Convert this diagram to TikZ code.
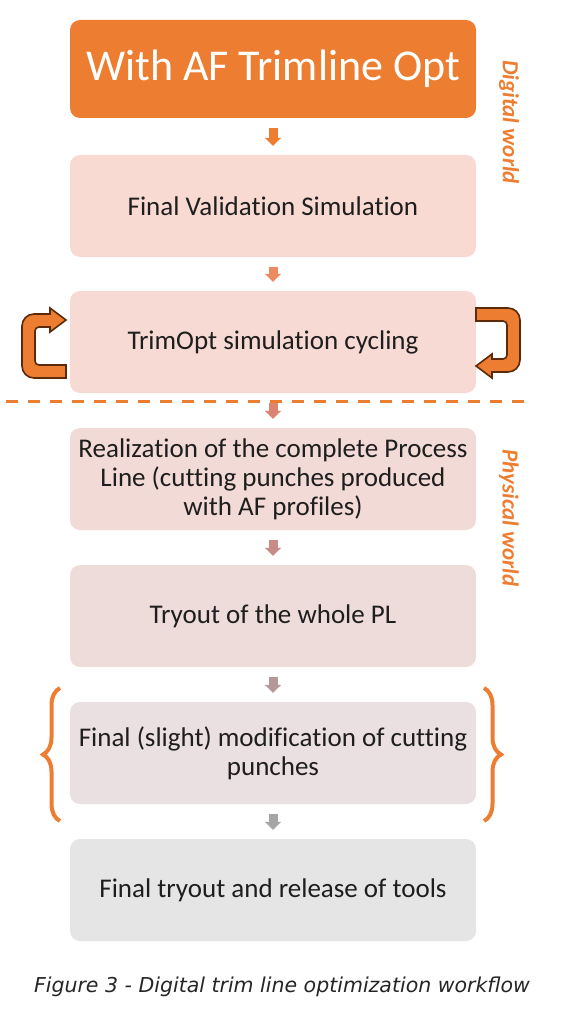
\documentclass[tikz,border=0pt]{standalone}
\usepackage{fontspec}
\setmainfont{Carlito}[Ligatures={NoCommon}]
\newfontfamily\capfont{DejaVu Sans}
\usetikzlibrary{arrows.meta,decorations.pathreplacing}

\definecolor{afOrange}{HTML}{ED7D31}
\definecolor{afBrown}{HTML}{5B2A0A}
\definecolor{fillA}{HTML}{F9DAD2}
\definecolor{fillB}{HTML}{F7DAD3}
\definecolor{fillC}{HTML}{F2DAD6}
\definecolor{fillD}{HTML}{EEDCDB}
\definecolor{fillE}{HTML}{EAE0E1}
\definecolor{fillF}{HTML}{E5E5E5}
\definecolor{arrA}{HTML}{ED7D31}
\definecolor{arrB}{HTML}{EC8A62}
\definecolor{arrC}{HTML}{DB8470}
\definecolor{arrD}{HTML}{C98B85}
\definecolor{arrE}{HTML}{B59898}
\definecolor{arrF}{HTML}{A5A5A5}
\definecolor{boxText}{HTML}{1E1E1E}

\tikzset{
  cycleturn/.pic={
    \draw[fill=afOrange, draw=afBrown, line width=1.6pt]
      (22,35) [rounded corners=12pt] -- (-22,35) -- (-22,-29)
      [sharp corners] -- (6,-29) -- (6,-35) -- (22,-23) -- (6,-11) -- (6,-16)
      [rounded corners=4pt] -- (-9,-16) -- (-9,22)
      [sharp corners] -- (22,22) -- cycle;
  }
}

\begin{document}
\begin{tikzpicture}[x=1pt,y=-1pt,
    flowbox/.style={rounded corners=10pt, minimum width=406pt, minimum height=102pt,
      align=center, inner sep=2pt, text=boxText, font=\fontsize{27}{29}\selectfont},
    linkarrow/.style={draw=#1, line width=9pt, shorten <=10pt, shorten >=9pt,
      -{Triangle[width=16pt,length=8pt]}},
    sidelabel/.style={rotate=-90, text=afOrange, font=\fontsize{23}{25}\selectfont\bfseries\itshape},
    curlybrace/.style={draw=afOrange, line width=4pt,
      decorate, decoration={brace, amplitude=17pt}}]
  \useasboundingbox (0,0) rectangle (565,1024);

  % steps of the workflow
  \node[flowbox, fill=afOrange, text=white, minimum height=98pt,
    font=\fontsize{44}{46}\selectfont] (b1) at (273,69) {With AF Trimline Opt};
  \node[flowbox, fill=fillA] (b2) at (273,206) {Final Validation Simulation};
  \node[flowbox, fill=fillB] (b3) at (273,342) {TrimOpt simulation cycling};
  \node[flowbox, fill=fillC] (b4) at (273,479) {Realization of the complete Process\\Line (cutting punches produced\\with AF profiles)};
  \node[flowbox, fill=fillD] (b5) at (273,616) {Tryout of the whole PL};
  \node[flowbox, fill=fillE] (b6) at (273,753) {Final (slight) modification of cutting\\punches};
  \node[flowbox, fill=fillF] (b7) at (273,890) {Final tryout and release of tools};

  \draw[linkarrow=arrA] (b1) -- (b2);
  \draw[linkarrow=arrB] (b2) -- (b3);
  \draw[linkarrow=arrC] (b3) -- (b4);
  \draw[linkarrow=arrD] (b4) -- (b5);
  \draw[linkarrow=arrE] (b5) -- (b6);
  \draw[linkarrow=arrF] (b6) -- (b7);

  % simulation loop
  \pic at (44,343) {cycleturn};
  \pic[rotate=180] at (498,343) {cycleturn};

  % digital / physical split
  \coordinate (splitL) at (6,401);
  \coordinate (splitR) at (528,401);
  \draw[afOrange, line width=3pt, dash pattern=on 12pt off 10pt] (splitL) -- (splitR);
  \node[sidelabel] (digital) at (509,122) {Digital world};
  \node[sidelabel] (physical) at (509,518) {Physical world};

  % braces round the modification step
  \draw[curlybrace] (60,821) -- (60,688);
  \draw[curlybrace] (484,688) -- (484,821);

  \node[font=\capfont\itshape\fontsize{20.5}{22}\selectfont, text=black!85] (caption)
    at (282,987) {Figure 3 - Digital trim line optimization workflow};
\end{tikzpicture}
\end{document}
